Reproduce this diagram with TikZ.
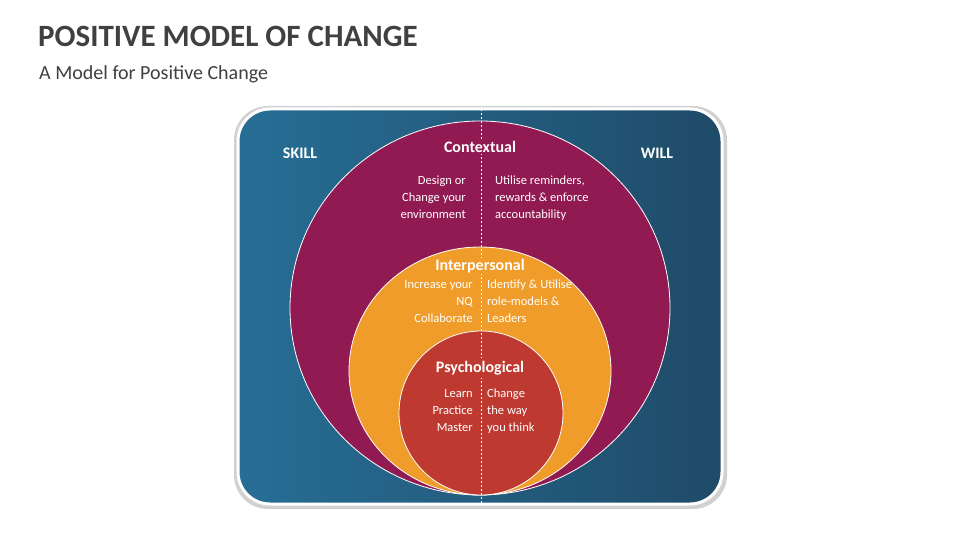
\documentclass[tikz,border=0pt]{standalone}
\usepackage{fontspec}
\setmainfont{Carlito}
\begin{document}
\begin{tikzpicture}[x=1pt,y=-1pt,
  lbl/.style={text=white,font=\bfseries\fontsize{16}{18}\selectfont,inner sep=1pt},
  body/.style={text=white,font=\fontsize{12.5}{17}\selectfont,inner sep=0pt},
  ring/.style={draw=white,line width=0.8pt}]
\definecolor{blueL}{HTML}{276E95}
\definecolor{blueR}{HTML}{1F4B68}
\definecolor{purp}{HTML}{921A52}
\definecolor{oran}{HTML}{F09C2A}
\definecolor{redc}{HTML}{BE3A30}
\definecolor{ttl}{HTML}{404040}
\useasboundingbox (0,0) rectangle (960,540);
\fill[white] (0,0) rectangle (960,540);
\node[anchor=west,text=ttl,font=\bfseries\fontsize{31}{34}\selectfont,inner sep=0pt] (title) at (38,36) {POSITIVE MODEL OF CHANGE};
\node[anchor=west,text=ttl,font=\fontsize{20}{24}\selectfont,inner sep=0pt] (sub) at (39,74) {A Model for Positive Change};
% panel
\fill[black!35,rounded corners=34] (236,109) rectangle (726,508);
\fill[black!18,rounded corners=34] (234,106) rectangle (727,509);
\shade[left color=blueL,right color=blueR,rounded corners=32,draw=white,line width=3pt] (238,109) rectangle (722,504);
\node[lbl] (skill) at (300,153) {SKILL};
\node[lbl] (will) at (657,153) {WILL};
% circles
\fill[purp,ring] (480,308) ellipse [x radius=190,y radius=187];
\fill[oran,ring] (480,371) ellipse [x radius=131,y radius=124];
\fill[redc,ring] (481,413) ellipse [x radius=82,y radius=82];
\draw[white,dashed,line width=0.8pt,dash pattern=on 2pt off 2pt] (481,109) -- (481,504);
% labels
\node[lbl,fill=purp] (ctx) at (480,147) {Contextual};
\node[body,anchor=north east,align=right] (c1) at (466,176) {Design or\\Change your\\environment};
\node[body,anchor=north west,align=left] (c2) at (495,176) {Utilise reminders,\\rewards \& enforce\\accountability};
\node[lbl,fill=oran] (ipc) at (480,266) {Interpersonal};
\node[body,anchor=north east,align=right] (i1) at (473,280) {Increase your\\NQ\\Collaborate};
\node[body,anchor=north west,align=left] (i2) at (487,280) {Identify \& Utilise\\role-models \&\\Leaders};
\node[lbl,fill=redc,inner xsep=4pt,inner ysep=3pt] (psy) at (480,368) {Psychological};
\draw[white,dashed,line width=0.8pt,dash pattern=on 2pt off 2pt] (481,381) -- (481,504);
\node[body,anchor=north east,align=right] (p1) at (473,389) {Learn\\Practice\\Master};
\node[body,anchor=north west,align=left] (p2) at (487,389) {Change\\the way\\you think};
\end{tikzpicture}
\end{document}
